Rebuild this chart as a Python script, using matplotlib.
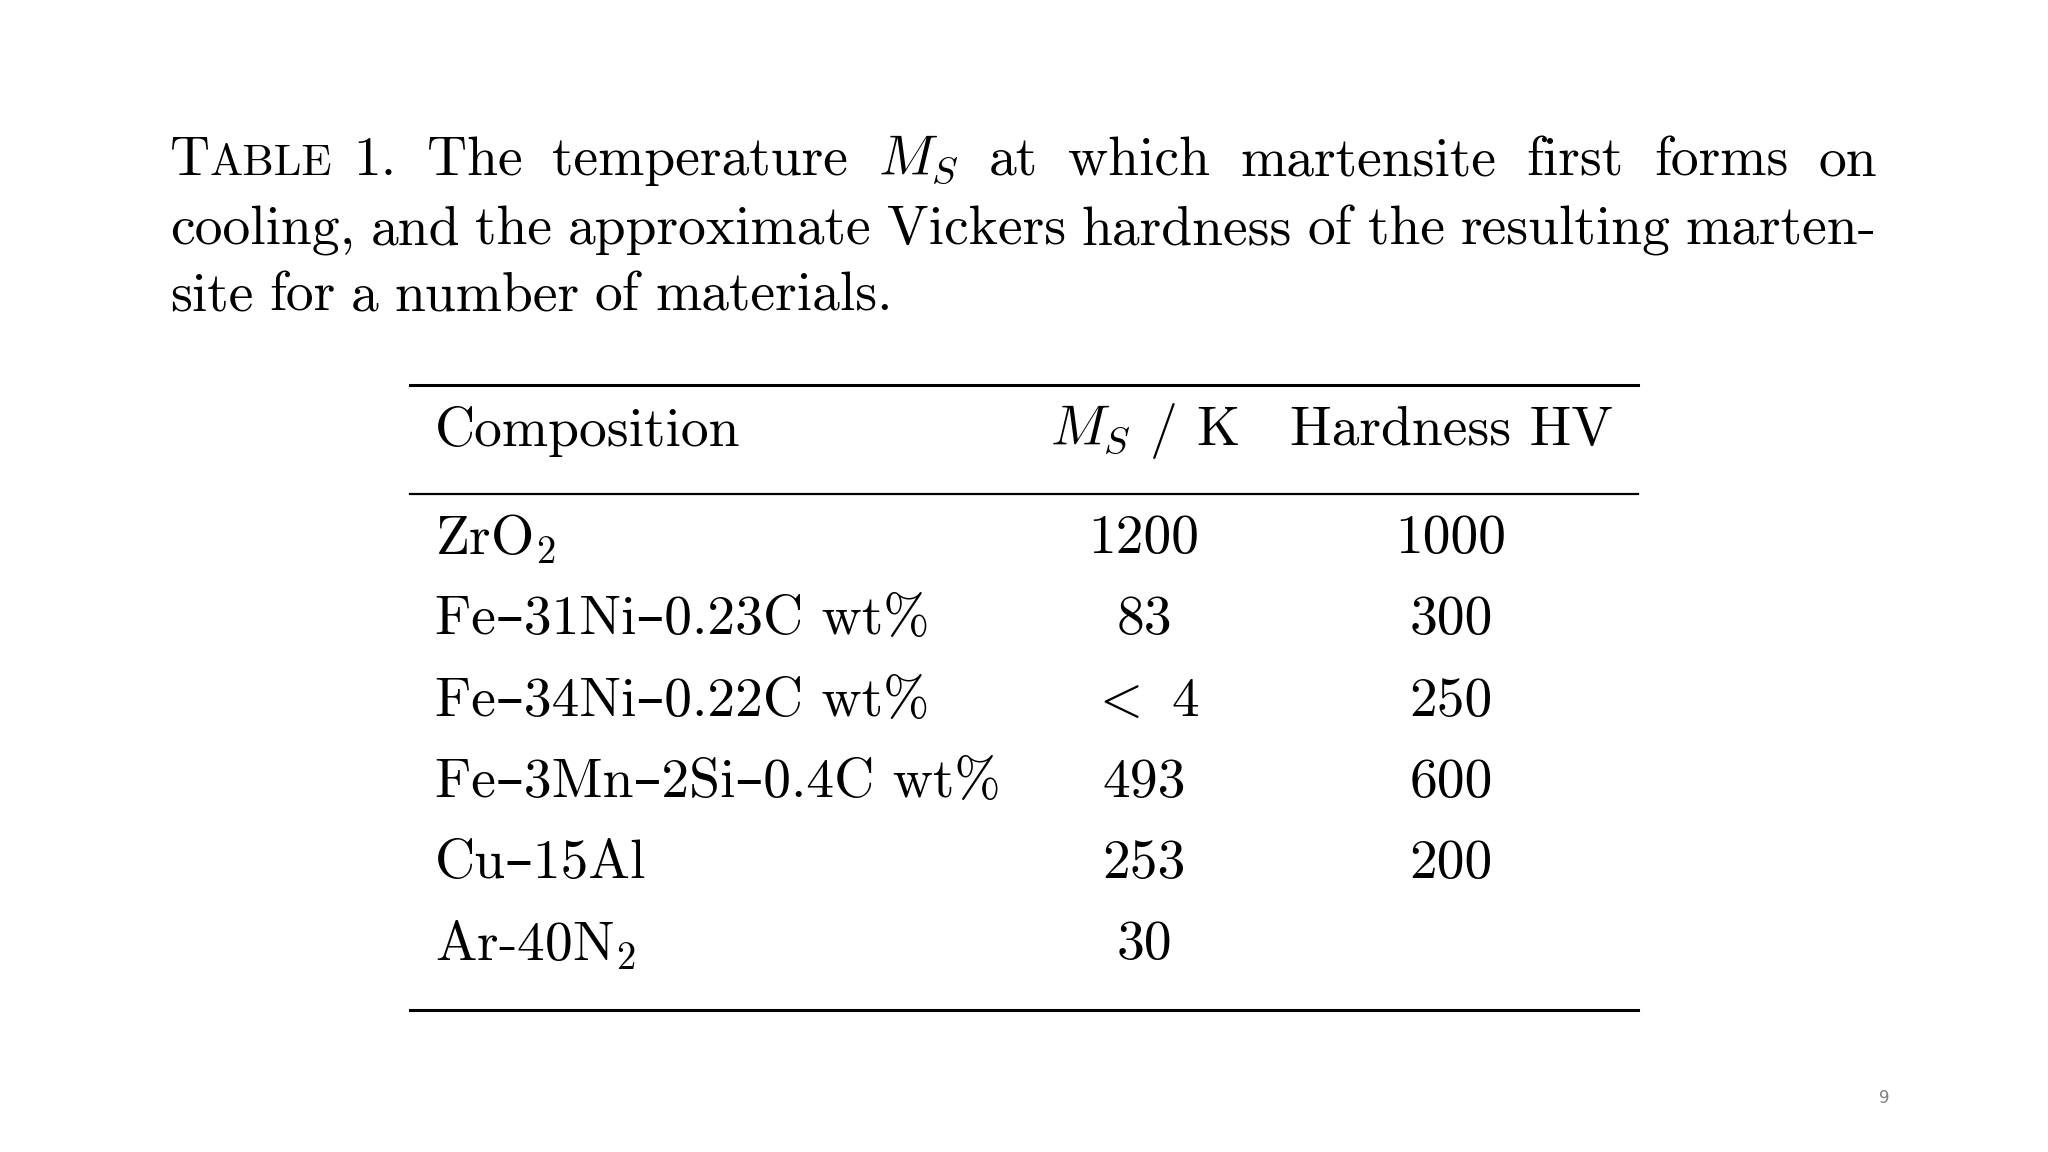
import matplotlib
matplotlib.use("Agg")
import matplotlib.pyplot as plt

plt.rcParams['mathtext.fontset'] = 'cm'
plt.rcParams['font.family'] = ['cmr10', 'DejaVu Serif']
plt.rcParams['axes.unicode_minus'] = False

W, H = 1568, 882  # layout grid in reference pixels

caption = [
    "1.  The temperature $M_S$ at which martensite first forms on",
    "cooling, and the approximate Vickers hardness of the resulting marten-",
    "site for a number of materials.",
]
headers = ["Composition", r"$M_S$ / K", "Hardness HV"]
compositions = [r"ZrO$_2$", "Fe–31Ni–0.23C wt%", "Fe–34Ni–0.22C wt%",
                "Fe–3Mn–2Si–0.4C wt%", "Cu–15Al", r"Ar-40N$_2$"]
ms_values = ["1200", "83", r"$<$ 4", "493", "253", "30"]
hardness = ["1000", "300", "250", "600", "200", ""]

fig = plt.figure(figsize=(20.48, 11.52), dpi=100)
fig.patch.set_facecolor("white")
ax = fig.add_axes([0, 0, 1, 1])
ax.set_xlim(0, W)
ax.set_ylim(H, 0)
ax.axis("off")
fig.canvas.draw()
r = fig.canvas.get_renderer()
FS = 40

def width(t):
    return t.get_window_extent(r).width * W / fig.bbox.width

# caption, justified
x0, x1 = 130, 1437
ys = [134, 187, 238]
for i, (line, y) in enumerate(zip(caption, ys)):
    x = x0
    if i == 0:
        t = ax.text(x, y, "T", fontsize=FS, va="baseline")
        x += width(t)
        t = ax.text(x, y, "ABLE", fontsize=FS * 0.8, va="baseline")
        x += width(t) + 16
    words = line.replace("$M_S$", "\x00").split()
    words = [w.replace("\x00", "$M_S$") for w in words]
    texts = [ax.text(0, y, w, fontsize=FS, va="baseline") for w in words]
    ws = [width(t) for t in texts]
    if i < 2:
        gap = (x1 - x - sum(ws)) / (len(words) - 1)
    else:
        gap = 12
    for t, w in zip(texts, ws):
        t.set_x(x)
        x += w + gap

# table
lx0, lx1 = 314, 1254
ax.plot([lx0, lx1], [295, 295], color="black", lw=2.2)
ax.plot([lx0, lx1], [378, 378], color="black", lw=1.6)
ax.plot([lx0, lx1], [773, 773], color="black", lw=2.2)

hy = 330
ax.text(333, hy, headers[0], fontsize=FS, va="center")
ax.text(876, hy, headers[1], fontsize=FS, va="center", ha="center")
ax.text(1111, hy, headers[2], fontsize=FS, va="center", ha="center")

row_y = [413, 475, 538, 600, 662, 724]
for y, c, m, h in zip(row_y, compositions, ms_values, hardness):
    ax.text(333, y, c, fontsize=FS, va="center")
    ax.text(876, y, m, fontsize=FS, va="center", ha="center")
    ax.text(1111, y, h, fontsize=FS, va="center", ha="center")

ax.text(1443, 841, "9", fontsize=12, color="#808080", ha="center", va="center",
        family="DejaVu Sans")

fig.savefig("out.png", dpi=100, facecolor="white")
